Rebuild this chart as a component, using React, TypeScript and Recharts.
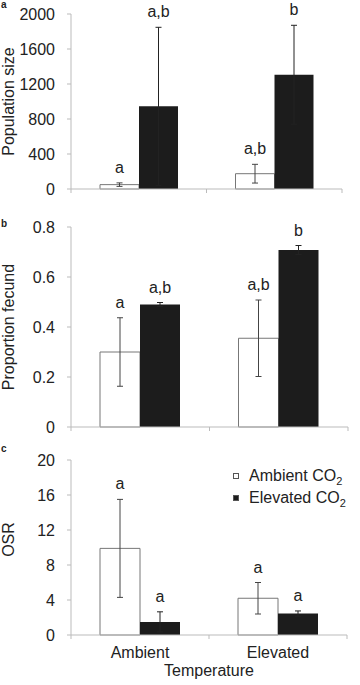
import React from "react";
import { Bar, BarChart, ErrorBar, LabelList, Legend, XAxis, YAxis } from "recharts";

// categories on the x axis (temperature treatment)
const categories = ["Ambient", "Elevated"];

// panel a: population size
const popAmbient = [50, 175];
const popAmbientErr = [20, 107];
const popElevated = [945, 1306];
const popElevatedErr = [903, 565];
const popAmbientSig = ["a", "a,b"];
const popElevatedSig = ["a,b", "b"];
const popTicks = [0, 400, 800, 1200, 1600, 2000];

// panel b: proportion fecund
const fecAmbient = [0.3, 0.355];
const fecAmbientErr = [0.137, 0.153];
const fecElevated = [0.49, 0.708];
const fecElevatedErr = [0.008, 0.018];
const fecAmbientSig = ["a", "a,b"];
const fecElevatedSig = ["a,b", "b"];
const fecTicks = [0, 0.2, 0.4, 0.6, 0.8];

// panel c: operational sex ratio
const osrAmbient = [9.9, 4.2];
const osrAmbientErr = [5.6, 1.8];
const osrElevated = [1.5, 2.45];
const osrElevatedErr = [1.15, 0.3];
const osrAmbientSig = ["a", "a"];
const osrElevatedSig = ["a", "a"];
const osrTicks = [0, 4, 8, 12, 16, 20];

const seriesNames = ["Ambient CO₂", "Elevated CO₂"];

const FONT = "'Liberation Sans', Arial, sans-serif";
const AXIS = "#bbb";
const INK = "#222";
const Y_AXIS_W = 71;

// significance letter drawn above the top of the error bar
const sigContent = (errs: number[], sigs: string[]) => (p: any) => {
  const vb = p.viewBox ?? p;
  const x = vb.x ?? p.x;
  const y = vb.y ?? p.y;
  const w = vb.width ?? p.width;
  const h = vb.height ?? p.height;
  const i = p.index ?? 0;
  const value = Number(p.value);
  const pxPerUnit = value ? h / value : 0;
  const top = y - errs[i] * pxPerUnit;
  return (
    <text x={x + w / 2} y={top - 10} textAnchor="middle" fontSize={16} fill={INK}>
      {sigs[i]}
    </text>
  );
};

// x axis tick: marks at the category edges, optional category label
const edgeTick = (band: number, showLabel: boolean) => (p: any) => {
  const { x, y, index, payload } = p;
  return (
    <g>
      {index === 0 && <line x1={x - band / 2} x2={x - band / 2} y1={y} y2={y + 4} stroke={AXIS} />}
      <line x1={x + band / 2} x2={x + band / 2} y1={y} y2={y + 4} stroke={AXIS} />
      {showLabel && (
        <text x={x} y={y + 23} textAnchor="middle" fontSize={16} fill={INK}>
          {payload.value}
        </text>
      )}
    </g>
  );
};

const yLabel = (text: string, shift: number) => (p: any) => {
  const vb = p.viewBox ?? { x: 0, y: 0, width: Y_AXIS_W, height: 0 };
  const cy = vb.y + vb.height / 2 + shift;
  return (
    <text
      transform={`translate(8.5, ${cy}) rotate(-90)`}
      textAnchor="middle"
      dominantBaseline="central"
      fontSize={16}
      fill={INK}
    >
      {text}
    </text>
  );
};

const LegendBox = ({ payload }: any) => (
  <div style={{ fontSize: 16, color: INK, lineHeight: "22px", fontFamily: FONT }}>
    {(payload ?? []).map((item: any) => (
      <div key={item.value} style={{ display: "flex", alignItems: "center", whiteSpace: "nowrap" }}>
        <span
          style={{
            display: "inline-block",
            width: 6,
            height: 6,
            boxSizing: "border-box",
            border: "1px solid #555",
            background: item.color,
            marginRight: 10,
          }}
        />
        <span>
          {String(item.value).replace("₂", "")}
          <sub style={{ fontSize: 11, verticalAlign: "-4px", lineHeight: 0 }}>2</sub>
        </span>
      </div>
    ))}
  </div>
);

type PanelProps = {
  top: number;
  height: number;
  marginTop: number;
  marginRight: number;
  xHeight: number;
  barSize: number;
  label: string;
  labelShift?: number;
  ticks: number[];
  amb: number[];
  ambErr: number[];
  elev: number[];
  elevErr: number[];
  ambSig: string[];
  elevSig: string[];
  showCats?: boolean;
  legend?: boolean;
};

const Panel = (props: PanelProps) => {
  const width = 360;
  const data = categories.map((cat, i) => ({
    cat,
    amb: props.amb[i],
    ambErr: props.ambErr[i],
    elev: props.elev[i],
    elevErr: props.elevErr[i],
  }));
  const band = (width - Y_AXIS_W - props.marginRight) / categories.length;

  return (
    <div style={{ position: "absolute", left: 0, top: props.top }}>
      <BarChart
        width={width}
        height={props.height}
        data={data}
        margin={{ top: props.marginTop, right: props.marginRight, left: 0, bottom: 0 }}
        barSize={props.barSize}
        barGap={0}
      >
        <XAxis
          dataKey="cat"
          height={props.xHeight}
          axisLine={{ stroke: AXIS }}
          tickLine={false}
          tickSize={0}
          tickMargin={0}
          interval={0}
          tick={edgeTick(band, !!props.showCats)}
          label={
            props.showCats
              ? { value: "Temperature", position: "insideBottom", offset: 9, fontSize: 16, fill: INK }
              : undefined
          }
        />
        <YAxis
          type="number"
          width={Y_AXIS_W}
          domain={[0, props.ticks[props.ticks.length - 1]]}
          ticks={props.ticks}
          interval={0}
          axisLine={{ stroke: AXIS }}
          tickLine={{ stroke: AXIS }}
          tickSize={4}
          tickMargin={12}
          tick={{ fill: INK, fontSize: 16 }}
          label={{ content: yLabel(props.label, props.labelShift ?? 0) }}
        />
        {props.legend && (
          <Legend
            layout="horizontal"
            verticalAlign="middle"
            align="center"
            content={<LegendBox />}
            wrapperStyle={{ top: 19.5, left: 233, width: 130 }}
          />
        )}
        <Bar dataKey="amb" name={seriesNames[0]} fill="#ffffff" stroke="#777" strokeWidth={1} isAnimationActive={false}>
          <ErrorBar dataKey="ambErr" direction="y" width={3} stroke="#444" strokeWidth={1} />
          <LabelList dataKey="amb" content={sigContent(props.ambErr, props.ambSig)} />
        </Bar>
        <Bar dataKey="elev" name={seriesNames[1]} fill="#1c1c1c" isAnimationActive={false}>
          <ErrorBar dataKey="elevErr" direction="y" width={3} stroke="#222" strokeWidth={1} />
          <LabelList dataKey="elev" content={sigContent(props.elevErr, props.elevSig)} />
        </Bar>
      </BarChart>
    </div>
  );
};

export default function App() {
  return (
    <div
      style={{
        position: "absolute",
        left: 0,
        top: 0,
        width: 360,
        height: 685,
        background: "#fff",
        fontFamily: FONT,
        overflow: "hidden",
      }}
    >
      <Panel
        top={0}
        height={200}
        marginTop={14}
        marginRight={18}
        xHeight={11}
        barSize={39}
        label="Population size"
        ticks={popTicks}
        amb={popAmbient}
        ambErr={popAmbientErr}
        elev={popElevated}
        elevErr={popElevatedErr}
        ambSig={popAmbientSig}
        elevSig={popElevatedSig}
      />
      <Panel
        top={212}
        height={225}
        marginTop={15}
        marginRight={12}
        xHeight={10}
        barSize={40}
        label="Proportion fecund"
        ticks={fecTicks}
        amb={fecAmbient}
        ambErr={fecAmbientErr}
        elev={fecElevated}
        elevErr={fecElevatedErr}
        ambSig={fecAmbientSig}
        elevSig={fecElevatedSig}
      />
      <Panel
        top={445}
        height={240}
        marginTop={15}
        marginRight={13}
        xHeight={50}
        barSize={40}
        label="OSR"
        labelShift={-8}
        ticks={osrTicks}
        amb={osrAmbient}
        ambErr={osrAmbientErr}
        elev={osrElevated}
        elevErr={osrElevatedErr}
        ambSig={osrAmbientSig}
        elevSig={osrElevatedSig}
        showCats
        legend
      />
      <svg width={360} height={685} style={{ position: "absolute", left: 0, top: 0, pointerEvents: "none" }}>
        <text x={1} y={7.5} fontSize={10} fontWeight="bold" fill={INK}>a</text>
        <text x={1} y={226.5} fontSize={10} fontWeight="bold" fill={INK}>b</text>
        <text x={1} y={451.5} fontSize={10} fontWeight="bold" fill={INK}>c</text>
      </svg>
    </div>
  );
}
